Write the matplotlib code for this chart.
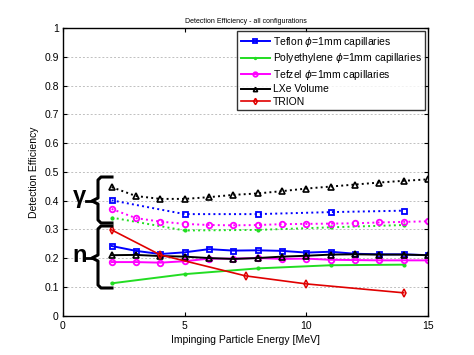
import numpy as np
import matplotlib
matplotlib.use('Agg')
import matplotlib.pyplot as plt

plt.rcParams['font.family'] = ['Liberation Sans', 'DejaVu Sans']

# energies [MeV]
e_all = [2, 3, 4, 5, 6, 7, 8, 9, 10, 11, 12, 13, 14, 15]
e_sub = [2, 5, 8, 11, 14]
e_trion = [2, 4, 7.5, 10, 14]

# neutron efficiencies (solid lines)
teflon_n = [0.242, 0.225, 0.214, 0.220, 0.231, 0.226, 0.227, 0.225, 0.219, 0.222, 0.215, 0.213, 0.213, 0.210]
poly_n = [0.112, 0.144, 0.164, 0.175, 0.177]
tefzel_n = [0.186, 0.186, 0.184, 0.189, 0.198, 0.198, 0.200, 0.197, 0.198, 0.194, 0.193, 0.192, 0.192, 0.192]
lxe_n = [0.210, 0.211, 0.207, 0.205, 0.200, 0.197, 0.200, 0.205, 0.208, 0.212, 0.213, 0.212, 0.212, 0.210]
trion = [0.298, 0.211, 0.138, 0.110, 0.079]

# gamma efficiencies (dotted lines)
teflon_g = [0.401, 0.353, 0.353, 0.360, 0.365]
poly_g = [0.341, 0.296, 0.298, 0.307, 0.315]
tefzel_g = [0.371, 0.339, 0.327, 0.319, 0.315, 0.314, 0.315, 0.318, 0.319, 0.320, 0.321, 0.324, 0.326, 0.328]
lxe_g = [0.447, 0.416, 0.406, 0.406, 0.412, 0.420, 0.425, 0.433, 0.442, 0.449, 0.456, 0.463, 0.469, 0.474]

blue = '#0000ff'
green = '#22dd22'
mag = '#ff00ff'
red = '#e00000'

W, H = 474, 355
fig = plt.figure(figsize=(W / 100, H / 100), dpi=100)
ax = fig.add_axes([63 / W, (H - 315.5) / H, (428 - 63) / W, (315.5 - 28.3) / H])

# gamma
ax.plot(e_sub, teflon_g, ':', color=blue, lw=1.4, marker='s', ms=3.6, mfc='none', mew=1.3)
ax.plot(e_sub, poly_g, ':', color=green, lw=1.4, marker='o', ms=3, mfc=green, mew=0)
ax.plot(e_all, tefzel_g, ':', color=mag, lw=1.4, marker='o', ms=4, mfc='none', mew=1.3)
ax.plot(e_all, lxe_g, ':', color='k', lw=1.4, marker='^', ms=3.8, mfc='none', mew=1.2)

# neutrons
ax.plot(e_all, teflon_n, '-', color=blue, lw=1.4, marker='s', ms=3.6, mfc='none', mew=1.3,
        label=r'Teflon $\phi$=1mm capillaries')
ax.plot(e_sub, poly_n, '-', color=green, lw=1.4, marker='o', ms=3, mfc=green, mew=0,
        label=r'Polyethylene $\phi$=1mm capillaries')
ax.plot(e_all, tefzel_n, '-', color=mag, lw=1.4, marker='o', ms=4, mfc='none', mew=1.3,
        label=r'Tefzel $\phi$=1mm capillaries')
ax.plot(e_all, lxe_n, '-', color='k', lw=1.4, marker='^', ms=3.8, mfc='none', mew=1.2,
        label='LXe Volume')
ax.plot(e_trion, trion, '-', color=red, lw=1.2, marker='d', ms=4, mfc='none', mew=1.1,
        label='TRION')

ax.set_xlim(0, 15)
ax.set_ylim(0, 1)
ax.set_xticks([0, 5, 10, 15])
ax.set_yticks(np.arange(0, 1.01, 0.1))
ax.set_yticklabels(['0', '0.1', '0.2', '0.3', '0.4', '0.5', '0.6', '0.7', '0.8', '0.9', '1'])
ax.tick_params(direction='in', length=3, width=0.8, labelsize=7.5, top=True, right=True)
ax.tick_params(axis='x', pad=4)
ax.tick_params(axis='y', pad=3)
ax.yaxis.grid(True, color='#c0c0c0', linestyle=(0, (2, 2)), lw=0.7)
ax.set_axisbelow(True)
for s in ax.spines.values():
    s.set_linewidth(1.0)

ax.set_xlabel('Impinging Particle Energy [MeV]', fontsize=7.5, labelpad=3)
ax.set_ylabel('Detection Efficiency', fontsize=7.5, labelpad=4)
ax.set_title('Detection Efficiency - all configurations', fontsize=5, pad=4)

leg = ax.legend(loc='upper right', fontsize=7.5, frameon=True, fancybox=False,
                borderaxespad=0.3, handlelength=2.8, labelspacing=0.25,
                handletextpad=0.3, borderpad=0.3, markerscale=0.8)
leg.get_frame().set_edgecolor('k')
leg.get_frame().set_linewidth(1.0)


# braces for gamma and neutron groups, in pixel coords
def px(x, y):
    return x / W, (H - y) / H


def brace(top, bot, mid):
    xs_tip, xs_sp, xs_mid = 112, 98, 92
    pts = [(xs_tip, top), (101, top), (xs_sp, top + 3), (xs_sp, mid - 3), (xs_mid, mid),
           (xs_sp, mid + 3), (xs_sp, bot - 3), (101, bot), (xs_tip, bot)]
    xs, ys = zip(*[px(*p) for p in pts])
    fig.add_artist(plt.Line2D(xs, ys, color='k', lw=2.2, solid_joinstyle='round'))
    xs, ys = zip(px(86, mid), px(92, mid))
    fig.add_artist(plt.Line2D(xs, ys, color='k', lw=2.0))


brace(177, 223, 201)
brace(226, 288, 258)
fig.text(*px(79, 197), 'γ', fontsize=17, fontweight='bold', ha='center', va='center')
fig.text(*px(80, 256), 'n', fontsize=17, fontweight='bold', ha='center', va='center')

fig.savefig('out.png', dpi=100)
